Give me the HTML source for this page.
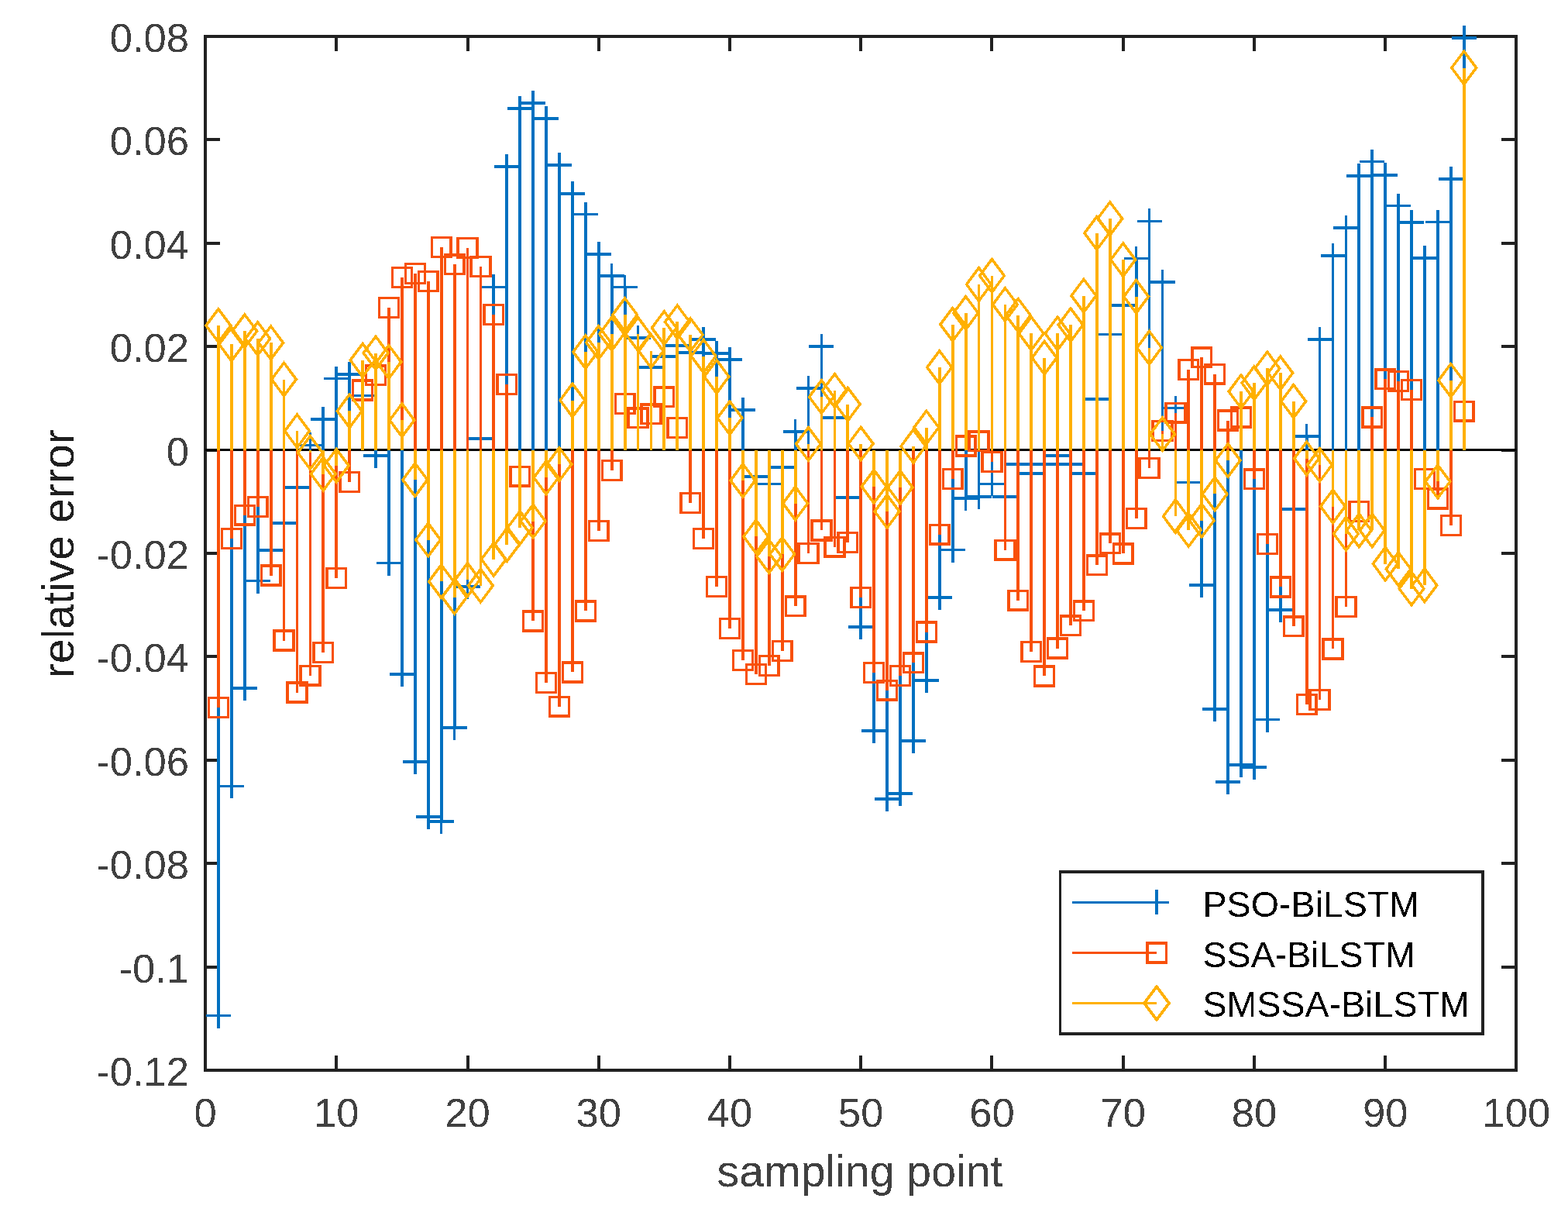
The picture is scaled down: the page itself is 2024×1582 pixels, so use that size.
<!DOCTYPE html>
<html><head><meta charset="utf-8"><title>relative error</title>
<style>html,body{margin:0;padding:0;background:#fff;}svg{display:block;}</style>
</head><body>
<svg width="2024" height="1582" viewBox="0 0 2024 1582" shape-rendering="crispEdges">
<rect width="2024" height="1582" fill="#fff"/>
<defs><filter id="al" x="0" y="0" width="1" height="1" color-interpolation-filters="sRGB"><feComponentTransfer><feFuncA type="discrete" tableValues="0 1"/></feComponentTransfer></filter></defs>
<path d="M265 1381V1362M265 47V66M434.2 1381V1362M434.2 47V66M603.5 1381V1362M603.5 47V66M772.7 1381V1362M772.7 47V66M942 1381V1362M942 47V66M1111.2 1381V1362M1111.2 47V66M1280.4 1381V1362M1280.4 47V66M1449.7 1381V1362M1449.7 47V66M1618.9 1381V1362M1618.9 47V66M1788.2 1381V1362M1788.2 47V66M1957.4 1381V1362M1957.4 47V66M265 47H284M1957.4 47H1938.4M265 180.4H284M1957.4 180.4H1938.4M265 313.8H284M1957.4 313.8H1938.4M265 447.2H284M1957.4 447.2H1938.4M265 580.6H284M1957.4 580.6H1938.4M265 714H284M1957.4 714H1938.4M265 847.4H284M1957.4 847.4H1938.4M265 980.8H284M1957.4 980.8H1938.4M265 1114.2H284M1957.4 1114.2H1938.4M265 1247.6H284M1957.4 1247.6H1938.4M265 1381H284M1957.4 1381H1938.4" stroke="#212121" stroke-width="4.0" fill="none"/>
<path d="M265 47H1957.4V1381H265Z" fill="none" stroke="#212121" stroke-width="4.0" stroke-linejoin="miter"/>
<path d="M265 580.6H1957.4" stroke="#000" stroke-width="2.8"/>
<path d="M281.9 581V1310.6M298.8 581V1014.4M315.8 581V887.8M332.7 581V749.6M349.6 581V709.8M366.5 581V675M383.5 581V628.8M400.4 581V574.4M417.3 581V540.7M434.2 581V488.5M451.2 581V483.1M468.1 581V510.4M485 581V587.8M501.9 581V726.6M518.9 581V870M535.8 581V982.9M552.7 581V1054.2M569.6 581V1060.1M586.6 581V938.9M603.5 581V757M620.4 581V565.8M637.3 581V370.4M654.3 581V215M671.2 581V139.8M688.1 581V132.7M705 581V153.1M721.9 581V213.3M738.9 581V249.8M755.8 581V276.5M772.7 581V328.3M789.6 581V356.2M806.6 581V370.6M823.5 581V435.8M840.4 581V474M857.3 581V460.1M874.3 581V445.9M891.2 581V455.2M908.1 581V438M925 581V456.3M942 581V464.1M958.9 581V529.3M975.8 581V615M992.7 581V624.5M1009.7 581V602.8M1026.6 581V557M1043.5 581V501.2M1060.4 581V447M1077.4 581V538.8M1094.3 581V642.2M1111.2 581V808.8M1128.1 581V943.3M1145 581V1031M1162 581V1024.3M1178.9 581V955.8M1195.8 581V877.8M1212.7 581V770.9M1229.7 581V709.6M1246.6 581V643.3M1263.5 581V641M1280.4 581V624.4M1297.4 581V640.8M1314.3 581V599.2M1331.2 581V610.9M1348.1 581V599.2M1365.1 581V587.7M1382 581V599.2M1398.9 581V610.9M1415.8 581V515M1432.8 581V431.4M1449.7 581V393.8M1466.6 581V333.6M1483.5 581V285.4M1500.5 581V363.9M1517.4 581V526.5M1534.3 581V622.6M1551.2 581V754.8M1568.1 581V914.9M1585.1 581V1009.3M1602 581V987M1618.9 581V990.3M1635.8 581V928.5M1652.8 581V787.2M1669.7 581V656.8M1686.6 581V562.7M1703.5 581V437.7M1720.5 581V330.3M1737.4 581V293.8M1754.3 581V227M1771.2 581V208.6M1788.2 581V226.3M1805.1 581V265.5M1822 581V287.2M1838.9 581V333.2M1855.9 581V286.5M1872.8 581V231.2M1889.7 581V49.3" stroke="#0070C0" stroke-width="3.8" fill="none" stroke-linecap="butt"/>
<path d="M265.9 1310.6H297.9M281.9 1294.6V1326.6M282.8 1014.4H314.8M298.8 998.4V1030.4M299.8 887.8H331.8M315.8 871.8V903.8M316.7 749.6H348.7M332.7 733.6V765.6M333.6 709.8H365.6M349.6 693.8V725.8M350.5 675H382.5M366.5 659V691M367.5 628.8H399.5M383.5 612.8V644.8M384.4 574.4H416.4M400.4 558.4V590.4M401.3 540.7H433.3M417.3 524.7V556.7M418.2 488.5H450.2M434.2 472.5V504.5M435.2 483.1H467.2M451.2 467.1V499.1M452.1 510.4H484.1M468.1 494.4V526.4M469 587.8H501M485 571.8V603.8M485.9 726.6H517.9M501.9 710.6V742.6M502.9 870H534.9M518.9 854V886M519.8 982.9H551.8M535.8 966.9V998.9M536.7 1054.2H568.7M552.7 1038.2V1070.2M553.6 1060.1H585.6M569.6 1044.1V1076.1M570.6 938.9H602.6M586.6 922.9V954.9M587.5 757H619.5M603.5 741V773M604.4 565.8H636.4M620.4 549.8V581.8M621.3 370.4H653.3M637.3 354.4V386.4M638.3 215H670.3M654.3 199V231M655.2 139.8H687.2M671.2 123.8V155.8M672.1 132.7H704.1M688.1 116.7V148.7M689 153.1H721M705 137.1V169.1M705.9 213.3H737.9M721.9 197.3V229.3M722.9 249.8H754.9M738.9 233.8V265.8M739.8 276.5H771.8M755.8 260.5V292.5M756.7 328.3H788.7M772.7 312.3V344.3M773.6 356.2H805.6M789.6 340.2V372.2M790.6 370.6H822.6M806.6 354.6V386.6M807.5 435.8H839.5M823.5 419.8V451.8M824.4 474H856.4M840.4 458V490M841.3 460.1H873.3M857.3 444.1V476.1M858.3 445.9H890.3M874.3 429.9V461.9M875.2 455.2H907.2M891.2 439.2V471.2M892.1 438H924.1M908.1 422V454M909 456.3H941M925 440.3V472.3M926 464.1H958M942 448.1V480.1M942.9 529.3H974.9M958.9 513.3V545.3M959.8 615H991.8M975.8 599V631M976.7 624.5H1008.7M992.7 608.5V640.5M993.7 602.8H1025.7M1009.7 586.8V618.8M1010.6 557H1042.6M1026.6 541V573M1027.5 501.2H1059.5M1043.5 485.2V517.2M1044.4 447H1076.4M1060.4 431V463M1061.4 538.8H1093.4M1077.4 522.8V554.8M1078.3 642.2H1110.3M1094.3 626.2V658.2M1095.2 808.8H1127.2M1111.2 792.8V824.8M1112.1 943.3H1144.1M1128.1 927.3V959.3M1129 1031H1161M1145 1015V1047M1146 1024.3H1178M1162 1008.3V1040.3M1162.9 955.8H1194.9M1178.9 939.8V971.8M1179.8 877.8H1211.8M1195.8 861.8V893.8M1196.7 770.9H1228.7M1212.7 754.9V786.9M1213.7 709.6H1245.7M1229.7 693.6V725.6M1230.6 643.3H1262.6M1246.6 627.3V659.3M1247.5 641H1279.5M1263.5 625V657M1264.4 624.4H1296.4M1280.4 608.4V640.4M1281.4 640.8H1313.4M1297.4 624.8V656.8M1298.3 599.2H1330.3M1314.3 583.2V615.2M1315.2 610.9H1347.2M1331.2 594.9V626.9M1332.1 599.2H1364.1M1348.1 583.2V615.2M1349.1 587.7H1381.1M1365.1 571.7V603.7M1366 599.2H1398M1382 583.2V615.2M1382.9 610.9H1414.9M1398.9 594.9V626.9M1399.8 515H1431.8M1415.8 499V531M1416.8 431.4H1448.8M1432.8 415.4V447.4M1433.7 393.8H1465.7M1449.7 377.8V409.8M1450.6 333.6H1482.6M1466.6 317.6V349.6M1467.5 285.4H1499.5M1483.5 269.4V301.4M1484.5 363.9H1516.5M1500.5 347.9V379.9M1501.4 526.5H1533.4M1517.4 510.5V542.5M1518.3 622.6H1550.3M1534.3 606.6V638.6M1535.2 754.8H1567.2M1551.2 738.8V770.8M1552.1 914.9H1584.1M1568.1 898.9V930.9M1569.1 1009.3H1601.1M1585.1 993.3V1025.3M1586 987H1618M1602 971V1003M1602.9 990.3H1634.9M1618.9 974.3V1006.3M1619.8 928.5H1651.8M1635.8 912.5V944.5M1636.8 787.2H1668.8M1652.8 771.2V803.2M1653.7 656.8H1685.7M1669.7 640.8V672.8M1670.6 562.7H1702.6M1686.6 546.7V578.7M1687.5 437.7H1719.5M1703.5 421.7V453.7M1704.5 330.3H1736.5M1720.5 314.3V346.3M1721.4 293.8H1753.4M1737.4 277.8V309.8M1738.3 227H1770.3M1754.3 211V243M1755.2 208.6H1787.2M1771.2 192.6V224.6M1772.2 226.3H1804.2M1788.2 210.3V242.3M1789.1 265.5H1821.1M1805.1 249.5V281.5M1806 287.2H1838M1822 271.2V303.2M1822.9 333.2H1854.9M1838.9 317.2V349.2M1839.9 286.5H1871.9M1855.9 270.5V302.5M1856.8 231.2H1888.8M1872.8 215.2V247.2M1873.7 49.3H1905.7M1889.7 33.3V65.3" stroke="#0070C0" stroke-width="3.7" fill="none" stroke-linejoin="miter" stroke-miterlimit="10"/>
<path d="M281.9 581V913M298.8 581V694.8M315.8 581V664.7M332.7 581V653.9M349.6 581V742.5M366.5 581V826.5M383.5 581V893.5M400.4 581V871.6M417.3 581V841.8M434.2 581V745.9M451.2 581V622.1M468.1 581V503.5M485 581V484.2M501.9 581V397.1M518.9 581V357.8M535.8 581V353.1M552.7 581V363M569.6 581V319.1M586.6 581V341.3M603.5 581V319.9M620.4 581V343.8M637.3 581V406M654.3 581V495.9M671.2 581V614.7M688.1 581V801.4M705 581V880.9M721.9 581V911.6M738.9 581V867.4M755.8 581V788.4M772.7 581V685.1M789.6 581V607M806.6 581V520.9M823.5 581V539.3M840.4 581V534.2M857.3 581V512.3M874.3 581V551.9M891.2 581V649M908.1 581V695M925 581V756.9M942 581V811M958.9 581V852M975.8 581V869.8M992.7 581V859M1009.7 581V839.8M1026.6 581V782.2M1043.5 581V713.9M1060.4 581V684.4M1077.4 581V705.7M1094.3 581V699.9M1111.2 581V770.9M1128.1 581V868.1M1145 581V890.7M1162 581V872M1178.9 581V855.2M1195.8 581V815.5M1212.7 581V689.7M1229.7 581V617.8M1246.6 581V575.4M1263.5 581V569.2M1280.4 581V596M1297.4 581V709.6M1314.3 581V774.6M1331.2 581V841M1348.1 581V872.4M1365.1 581V836.5M1382 581V807.3M1398.9 581V788.3M1415.8 581V729.2M1432.8 581V701.2M1449.7 581V714.4M1466.6 581V669.1M1483.5 581V604M1500.5 581V556M1517.4 581V532.7M1534.3 581V476.8M1551.2 581V461.3M1568.1 581V482.7M1585.1 581V542.5M1602 581V538.4M1618.9 581V618.3M1635.8 581V702.1M1652.8 581V757.4M1669.7 581V808.2M1686.6 581V909M1703.5 581V903.1M1720.5 581V837.4M1737.4 581V783.1M1754.3 581V660.1M1771.2 581V538.4M1788.2 581V489.3M1805.1 581V492M1822 581V503M1838.9 581V618M1855.9 581V643.5M1872.8 581V677.8M1889.7 581V530.7" stroke="#F8500A" stroke-width="3.8" fill="none" stroke-linecap="butt"/>
<path d="M269.5 900.6H294.3V925.4H269.5ZM286.4 682.4H311.2V707.2H286.4ZM303.4 652.3H328.2V677.1H303.4ZM320.3 641.5H345.1V666.3H320.3ZM337.2 730.1H362V754.9H337.2ZM354.1 814.1H378.9V838.9H354.1ZM371.1 881.1H395.9V905.9H371.1ZM388 859.2H412.8V884H388ZM404.9 829.4H429.7V854.2H404.9ZM421.8 733.5H446.6V758.3H421.8ZM438.8 609.7H463.6V634.5H438.8ZM455.7 491.1H480.5V515.9H455.7ZM472.6 471.8H497.4V496.6H472.6ZM489.5 384.7H514.3V409.5H489.5ZM506.5 345.4H531.3V370.2H506.5ZM523.4 340.7H548.2V365.5H523.4ZM540.3 350.6H565.1V375.4H540.3ZM557.2 306.7H582V331.5H557.2ZM574.2 328.9H599V353.7H574.2ZM591.1 307.5H615.9V332.3H591.1ZM608 331.4H632.8V356.2H608ZM624.9 393.6H649.7V418.4H624.9ZM641.9 483.5H666.7V508.3H641.9ZM658.8 602.3H683.6V627.1H658.8ZM675.7 789H700.5V813.8H675.7ZM692.6 868.5H717.4V893.3H692.6ZM709.5 899.2H734.3V924H709.5ZM726.5 855H751.3V879.8H726.5ZM743.4 776H768.2V800.8H743.4ZM760.3 672.7H785.1V697.5H760.3ZM777.2 594.6H802V619.4H777.2ZM794.2 508.5H819V533.3H794.2ZM811.1 526.9H835.9V551.7H811.1ZM828 521.8H852.8V546.6H828ZM844.9 499.9H869.7V524.7H844.9ZM861.9 539.5H886.7V564.3H861.9ZM878.8 636.6H903.6V661.4H878.8ZM895.7 682.6H920.5V707.4H895.7ZM912.6 744.5H937.4V769.3H912.6ZM929.6 798.6H954.4V823.4H929.6ZM946.5 839.6H971.3V864.4H946.5ZM963.4 857.4H988.2V882.2H963.4ZM980.3 846.6H1005.1V871.4H980.3ZM997.3 827.4H1022.1V852.2H997.3ZM1014.2 769.8H1039V794.6H1014.2ZM1031.1 701.5H1055.9V726.3H1031.1ZM1048 672H1072.8V696.8H1048ZM1065 693.3H1089.8V718.1H1065ZM1081.9 687.5H1106.7V712.3H1081.9ZM1098.8 758.5H1123.6V783.3H1098.8ZM1115.7 855.7H1140.5V880.5H1115.7ZM1132.6 878.3H1157.4V903.1H1132.6ZM1149.6 859.6H1174.4V884.4H1149.6ZM1166.5 842.8H1191.3V867.6H1166.5ZM1183.4 803.1H1208.2V827.9H1183.4ZM1200.3 677.3H1225.1V702.1H1200.3ZM1217.3 605.4H1242.1V630.2H1217.3ZM1234.2 563H1259V587.8H1234.2ZM1251.1 556.8H1275.9V581.6H1251.1ZM1268 583.6H1292.8V608.4H1268ZM1285 697.2H1309.8V722H1285ZM1301.9 762.2H1326.7V787H1301.9ZM1318.8 828.6H1343.6V853.4H1318.8ZM1335.7 860H1360.5V884.8H1335.7ZM1352.7 824.1H1377.5V848.9H1352.7ZM1369.6 794.9H1394.4V819.7H1369.6ZM1386.5 775.9H1411.3V800.7H1386.5ZM1403.4 716.8H1428.2V741.6H1403.4ZM1420.4 688.8H1445.2V713.6H1420.4ZM1437.3 702H1462.1V726.8H1437.3ZM1454.2 656.7H1479V681.5H1454.2ZM1471.1 591.6H1495.9V616.4H1471.1ZM1488.1 543.6H1512.9V568.4H1488.1ZM1505 520.3H1529.8V545.1H1505ZM1521.9 464.4H1546.7V489.2H1521.9ZM1538.8 448.9H1563.6V473.7H1538.8ZM1555.7 470.3H1580.5V495.1H1555.7ZM1572.7 530.1H1597.5V554.9H1572.7ZM1589.6 526H1614.4V550.8H1589.6ZM1606.5 605.9H1631.3V630.7H1606.5ZM1623.4 689.7H1648.2V714.5H1623.4ZM1640.4 745H1665.2V769.8H1640.4ZM1657.3 795.8H1682.1V820.6H1657.3ZM1674.2 896.6H1699V921.4H1674.2ZM1691.1 890.7H1715.9V915.5H1691.1ZM1708.1 825H1732.9V849.8H1708.1ZM1725 770.7H1749.8V795.5H1725ZM1741.9 647.7H1766.7V672.5H1741.9ZM1758.8 526H1783.6V550.8H1758.8ZM1775.8 476.9H1800.6V501.7H1775.8ZM1792.7 479.6H1817.5V504.4H1792.7ZM1809.6 490.6H1834.4V515.4H1809.6ZM1826.5 605.6H1851.3V630.4H1826.5ZM1843.5 631.1H1868.3V655.9H1843.5ZM1860.4 665.4H1885.2V690.2H1860.4ZM1877.3 518.3H1902.1V543.1H1877.3Z" stroke="#F8500A" stroke-width="3.4" fill="none" stroke-linejoin="miter" stroke-miterlimit="10"/>
<path d="M281.9 581V420.1M298.8 581V444.4M315.8 581V427.2M332.7 581V437M349.6 581V442.3M366.5 581V489.5M383.5 581V556.2M400.4 581V584.1M417.3 581V611.6M434.2 581V600.8M451.2 581V530.4M468.1 581V464.8M485 581V455.5M501.9 581V467M518.9 581V542.2M535.8 581V619.1M552.7 581V696.5M569.6 581V750.2M586.6 581V770.6M603.5 581V748M620.4 581V755.7M637.3 581V721.7M654.3 581V703M671.2 581V680.9M688.1 581V672.5M705 581V616.3M721.9 581V599M738.9 581V516.5M755.8 581V454.1M772.7 581V442M789.6 581V430.9M806.6 581V406.2M823.5 581V431M840.4 581V453M857.3 581V423.1M874.3 581V415.4M891.2 581V432M908.1 581V459.6M925 581V486M942 581V539.3M958.9 581V620M975.8 581V692.4M992.7 581V718M1009.7 581V715M1026.6 581V649.5M1043.5 581V572.9M1060.4 581V512.1M1077.4 581V503.9M1094.3 581V521.6M1111.2 581V572.5M1128.1 581V627.8M1145 581V659.9M1162 581V628.9M1178.9 581V575.8M1195.8 581V551.5M1212.7 581V474M1229.7 581V418.7M1246.6 581V403.9M1263.5 581V367M1280.4 581V355.8M1297.4 581V393M1314.3 581V406.8M1331.2 581V430.3M1348.1 581V461.7M1365.1 581V430.3M1382 581V419.2M1398.9 581V381.6M1415.8 581V300.9M1432.8 581V282.1M1449.7 581V335.2M1466.6 581V382.7M1483.5 581V448.7M1500.5 581V560.2M1517.4 581V666.2M1534.3 581V683.9M1551.2 581V671.7M1568.1 581V637.4M1585.1 581V594M1602 581V505.2M1618.9 581V494.2M1635.8 581V475.4M1652.8 581V481.3M1669.7 581V517.8M1686.6 581V591.5M1703.5 581V599.9M1720.5 581V653.5M1737.4 581V688.8M1754.3 581V684.4M1771.2 581V684.4M1788.2 581V727.6M1805.1 581V734.2M1822 581V759.6M1838.9 581V755.2M1855.9 581V621.4M1872.8 581V490.8M1889.7 581V87.5" stroke="#FFB000" stroke-width="3.8" fill="none" stroke-linecap="butt"/>
<path d="M281.9 398.8L297.8 420.1L281.9 441.4L266 420.1ZM298.8 423.1L314.7 444.4L298.8 465.7L282.9 444.4ZM315.8 405.9L331.7 427.2L315.8 448.5L299.9 427.2ZM332.7 415.7L348.6 437L332.7 458.3L316.8 437ZM349.6 421L365.5 442.3L349.6 463.6L333.7 442.3ZM366.5 468.2L382.4 489.5L366.5 510.8L350.6 489.5ZM383.5 534.9L399.4 556.2L383.5 577.5L367.6 556.2ZM400.4 562.8L416.3 584.1L400.4 605.4L384.5 584.1ZM417.3 590.3L433.2 611.6L417.3 632.9L401.4 611.6ZM434.2 579.5L450.1 600.8L434.2 622.1L418.3 600.8ZM451.2 509.1L467.1 530.4L451.2 551.7L435.3 530.4ZM468.1 443.5L484 464.8L468.1 486.1L452.2 464.8ZM485 434.2L500.9 455.5L485 476.8L469.1 455.5ZM501.9 445.7L517.8 467L501.9 488.3L486 467ZM518.9 520.9L534.8 542.2L518.9 563.5L503 542.2ZM535.8 597.8L551.7 619.1L535.8 640.4L519.9 619.1ZM552.7 675.2L568.6 696.5L552.7 717.8L536.8 696.5ZM569.6 728.9L585.5 750.2L569.6 771.5L553.7 750.2ZM586.6 749.3L602.5 770.6L586.6 791.9L570.7 770.6ZM603.5 726.7L619.4 748L603.5 769.3L587.6 748ZM620.4 734.4L636.3 755.7L620.4 777L604.5 755.7ZM637.3 700.4L653.2 721.7L637.3 743L621.4 721.7ZM654.3 681.7L670.2 703L654.3 724.3L638.4 703ZM671.2 659.6L687.1 680.9L671.2 702.2L655.3 680.9ZM688.1 651.2L704 672.5L688.1 693.8L672.2 672.5ZM705 595L720.9 616.3L705 637.6L689.1 616.3ZM721.9 577.7L737.8 599L721.9 620.3L706 599ZM738.9 495.2L754.8 516.5L738.9 537.8L723 516.5ZM755.8 432.8L771.7 454.1L755.8 475.4L739.9 454.1ZM772.7 420.7L788.6 442L772.7 463.3L756.8 442ZM789.6 409.6L805.5 430.9L789.6 452.2L773.7 430.9ZM806.6 384.9L822.5 406.2L806.6 427.5L790.7 406.2ZM823.5 409.7L839.4 431L823.5 452.3L807.6 431ZM840.4 431.7L856.3 453L840.4 474.3L824.5 453ZM857.3 401.8L873.2 423.1L857.3 444.4L841.4 423.1ZM874.3 394.1L890.2 415.4L874.3 436.7L858.4 415.4ZM891.2 410.7L907.1 432L891.2 453.3L875.3 432ZM908.1 438.3L924 459.6L908.1 480.9L892.2 459.6ZM925 464.7L940.9 486L925 507.3L909.1 486ZM942 518L957.9 539.3L942 560.6L926.1 539.3ZM958.9 598.7L974.8 620L958.9 641.3L943 620ZM975.8 671.1L991.7 692.4L975.8 713.7L959.9 692.4ZM992.7 696.7L1008.6 718L992.7 739.3L976.8 718ZM1009.7 693.7L1025.6 715L1009.7 736.3L993.8 715ZM1026.6 628.2L1042.5 649.5L1026.6 670.8L1010.7 649.5ZM1043.5 551.6L1059.4 572.9L1043.5 594.2L1027.6 572.9ZM1060.4 490.8L1076.3 512.1L1060.4 533.4L1044.5 512.1ZM1077.4 482.6L1093.3 503.9L1077.4 525.2L1061.5 503.9ZM1094.3 500.3L1110.2 521.6L1094.3 542.9L1078.4 521.6ZM1111.2 551.2L1127.1 572.5L1111.2 593.8L1095.3 572.5ZM1128.1 606.5L1144 627.8L1128.1 649.1L1112.2 627.8ZM1145 638.6L1160.9 659.9L1145 681.2L1129.1 659.9ZM1162 607.6L1177.9 628.9L1162 650.2L1146.1 628.9ZM1178.9 554.5L1194.8 575.8L1178.9 597.1L1163 575.8ZM1195.8 530.2L1211.7 551.5L1195.8 572.8L1179.9 551.5ZM1212.7 452.7L1228.6 474L1212.7 495.3L1196.8 474ZM1229.7 397.4L1245.6 418.7L1229.7 440L1213.8 418.7ZM1246.6 382.6L1262.5 403.9L1246.6 425.2L1230.7 403.9ZM1263.5 345.7L1279.4 367L1263.5 388.3L1247.6 367ZM1280.4 334.5L1296.3 355.8L1280.4 377.1L1264.5 355.8ZM1297.4 371.7L1313.3 393L1297.4 414.3L1281.5 393ZM1314.3 385.5L1330.2 406.8L1314.3 428.1L1298.4 406.8ZM1331.2 409L1347.1 430.3L1331.2 451.6L1315.3 430.3ZM1348.1 440.4L1364 461.7L1348.1 483L1332.2 461.7ZM1365.1 409L1381 430.3L1365.1 451.6L1349.2 430.3ZM1382 397.9L1397.9 419.2L1382 440.5L1366.1 419.2ZM1398.9 360.3L1414.8 381.6L1398.9 402.9L1383 381.6ZM1415.8 279.6L1431.7 300.9L1415.8 322.2L1399.9 300.9ZM1432.8 260.8L1448.7 282.1L1432.8 303.4L1416.9 282.1ZM1449.7 313.9L1465.6 335.2L1449.7 356.5L1433.8 335.2ZM1466.6 361.4L1482.5 382.7L1466.6 404L1450.7 382.7ZM1483.5 427.4L1499.4 448.7L1483.5 470L1467.6 448.7ZM1500.5 538.9L1516.4 560.2L1500.5 581.5L1484.6 560.2ZM1517.4 644.9L1533.3 666.2L1517.4 687.5L1501.5 666.2ZM1534.3 662.6L1550.2 683.9L1534.3 705.2L1518.4 683.9ZM1551.2 650.4L1567.1 671.7L1551.2 693L1535.3 671.7ZM1568.1 616.1L1584 637.4L1568.1 658.7L1552.2 637.4ZM1585.1 572.7L1601 594L1585.1 615.3L1569.2 594ZM1602 483.9L1617.9 505.2L1602 526.5L1586.1 505.2ZM1618.9 472.9L1634.8 494.2L1618.9 515.5L1603 494.2ZM1635.8 454.1L1651.7 475.4L1635.8 496.7L1619.9 475.4ZM1652.8 460L1668.7 481.3L1652.8 502.6L1636.9 481.3ZM1669.7 496.5L1685.6 517.8L1669.7 539.1L1653.8 517.8ZM1686.6 570.2L1702.5 591.5L1686.6 612.8L1670.7 591.5ZM1703.5 578.6L1719.4 599.9L1703.5 621.2L1687.6 599.9ZM1720.5 632.2L1736.4 653.5L1720.5 674.8L1704.6 653.5ZM1737.4 667.5L1753.3 688.8L1737.4 710.1L1721.5 688.8ZM1754.3 663.1L1770.2 684.4L1754.3 705.7L1738.4 684.4ZM1771.2 663.1L1787.1 684.4L1771.2 705.7L1755.3 684.4ZM1788.2 706.3L1804.1 727.6L1788.2 748.9L1772.3 727.6ZM1805.1 712.9L1821 734.2L1805.1 755.5L1789.2 734.2ZM1822 738.3L1837.9 759.6L1822 780.9L1806.1 759.6ZM1838.9 733.9L1854.8 755.2L1838.9 776.5L1823 755.2ZM1855.9 600.1L1871.8 621.4L1855.9 642.7L1840 621.4ZM1872.8 469.5L1888.7 490.8L1872.8 512.1L1856.9 490.8ZM1889.7 66.2L1905.6 87.5L1889.7 108.8L1873.8 87.5Z" stroke="#FFB000" stroke-width="3.5" fill="none" stroke-linejoin="miter" stroke-miterlimit="10"/>
<g filter="url(#al)" font-family="Liberation Sans, Arial, sans-serif" font-size="52.5" fill="#404040"><text x="244" y="67" text-anchor="end">0.08</text><text x="244" y="200.4" text-anchor="end">0.06</text><text x="244" y="333.8" text-anchor="end">0.04</text><text x="244" y="467.2" text-anchor="end">0.02</text><text x="244" y="600.6" text-anchor="end">0</text><text x="244" y="734" text-anchor="end">-0.02</text><text x="244" y="867.4" text-anchor="end">-0.04</text><text x="244" y="1000.8" text-anchor="end">-0.06</text><text x="244" y="1134.2" text-anchor="end">-0.08</text><text x="244" y="1267.6" text-anchor="end">-0.1</text><text x="244" y="1401" text-anchor="end">-0.12</text><text x="265" y="1453.5" text-anchor="middle">0</text><text x="434.2" y="1453.5" text-anchor="middle">10</text><text x="603.5" y="1453.5" text-anchor="middle">20</text><text x="772.7" y="1453.5" text-anchor="middle">30</text><text x="942" y="1453.5" text-anchor="middle">40</text><text x="1111.2" y="1453.5" text-anchor="middle">50</text><text x="1280.4" y="1453.5" text-anchor="middle">60</text><text x="1449.7" y="1453.5" text-anchor="middle">70</text><text x="1618.9" y="1453.5" text-anchor="middle">80</text><text x="1788.2" y="1453.5" text-anchor="middle">90</text><text x="1957.4" y="1453.5" text-anchor="middle">100</text></g>
<text filter="url(#al)" x="1110" y="1530.7" text-anchor="middle" font-family="Liberation Sans, Arial, sans-serif" font-size="57.2" fill="#404040">sampling point</text>
<g filter="url(#al)"><text transform="translate(94.6 714.7) rotate(-90)" text-anchor="middle" font-family="Liberation Sans, Arial, sans-serif" font-size="57.2" fill="#1f1f1f">relative error</text></g>
<rect x="1368.5" y="1125" width="545.5" height="209" fill="#fff" stroke="#212121" stroke-width="3.6"/>
<path d="M1384 1164.4H1493M1477 1164.4H1509M1493 1148.4V1180.4" stroke="#0070C0" stroke-width="3.8" fill="none"/>
<text filter="url(#al)" x="1552.5" y="1182.7" font-family="Liberation Sans, Arial, sans-serif" font-size="46.6" fill="#000">PSO-BiLSTM</text>
<path d="M1384 1229.4H1493M1480.6 1217H1505.4V1241.8H1480.6Z" stroke="#F8500A" stroke-width="3.8" fill="none"/>
<text filter="url(#al)" x="1552.5" y="1248" font-family="Liberation Sans, Arial, sans-serif" font-size="46.6" fill="#000">SSA-BiLSTM</text>
<path d="M1384 1294.5H1493M1493 1273.2L1508.9 1294.5L1493 1315.8L1477.1 1294.5Z" stroke="#FFB000" stroke-width="3.8" fill="none"/>
<text filter="url(#al)" x="1552.5" y="1312.2" font-family="Liberation Sans, Arial, sans-serif" font-size="46.6" fill="#000">SMSSA-BiLSTM</text>
</svg>
</body></html>
